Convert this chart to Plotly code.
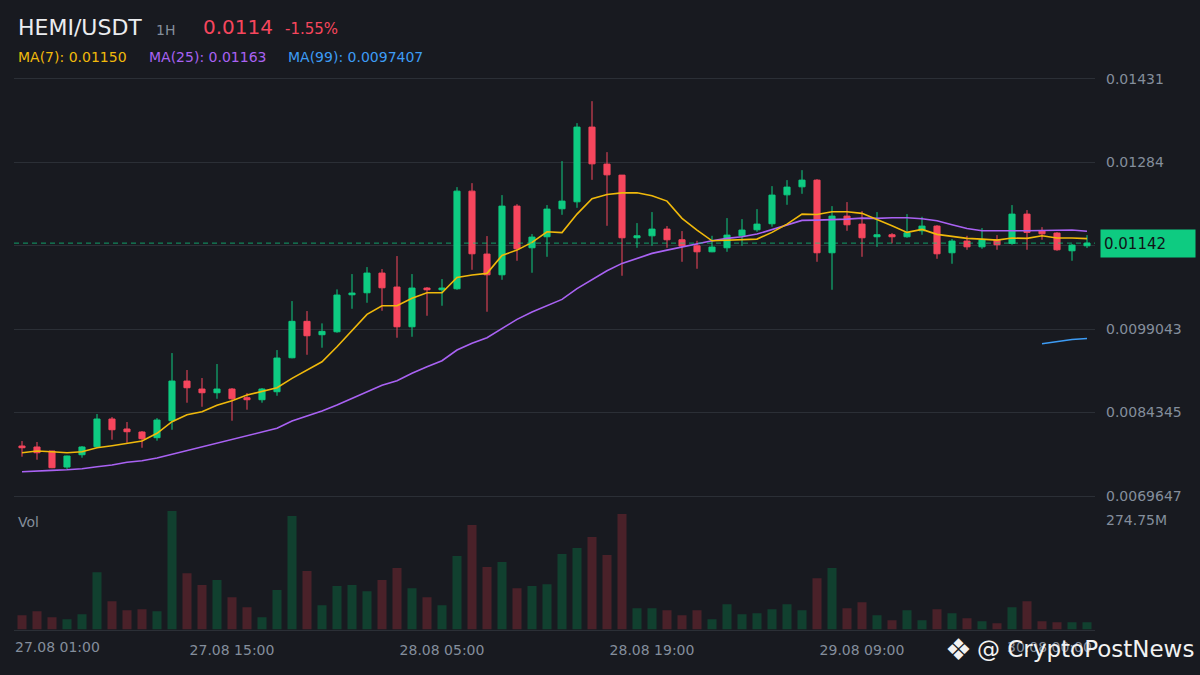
import plotly.graph_objects as go
import pandas as pd

# ---------------- data ----------------
start_time = "2025-08-27 01:00"

opens = [0.007845, 0.007828, 0.007757, 0.007475, 0.007692, 0.007833, 0.008321, 0.008145, 0.008092, 0.007992,
         0.008291, 0.008990, 0.008849, 0.008784, 0.008849, 0.008696, 0.008661, 0.008802, 0.009400, 0.010042,
         0.009806, 0.009858, 0.010510, 0.010545, 0.010892, 0.010646, 0.009946, 0.010628, 0.010598, 0.010616,
         0.012336, 0.011227, 0.010862, 0.012072, 0.011338, 0.011532, 0.012025, 0.012148, 0.013464, 0.012812,
         0.012618, 0.011514, 0.011549, 0.011667, 0.011479, 0.011373, 0.011267, 0.011338, 0.011549, 0.011655,
         0.011761, 0.012271, 0.012412, 0.012530, 0.011250, 0.011896, 0.011755, 0.011532, 0.011567, 0.011532,
         0.011637, 0.011720, 0.011250, 0.011456, 0.011355, 0.011479, 0.011415, 0.011931, 0.011632, 0.011597,
         0.011285, 0.011373]
highs = [0.007933, 0.007916, 0.007760, 0.007675, 0.007845, 0.008409, 0.008356, 0.008268, 0.008110, 0.008338,
         0.009483, 0.009184, 0.009043, 0.009290, 0.008867, 0.008779, 0.008867, 0.009536, 0.010399, 0.010223,
         0.010006, 0.010605, 0.010875, 0.010998, 0.010963, 0.011192, 0.010875, 0.010646, 0.010787, 0.012407,
         0.012477, 0.011544, 0.012266, 0.012107, 0.011579, 0.012090, 0.012865, 0.013534, 0.013921, 0.013023,
         0.012618, 0.011773, 0.011967, 0.011720, 0.011632, 0.011461, 0.011549, 0.011861, 0.011843, 0.012019,
         0.012424, 0.012530, 0.012706, 0.012548, 0.012072, 0.012143, 0.011984, 0.011967, 0.011597, 0.011931,
         0.011884, 0.011738, 0.011491, 0.011549, 0.011685, 0.011561, 0.012090, 0.012002, 0.011702, 0.011614,
         0.011403, 0.011561]
lows = [0.007657, 0.007604, 0.007455, 0.007440, 0.007639, 0.007820, 0.007956, 0.007903, 0.007815, 0.007939,
        0.008132, 0.008608, 0.008537, 0.008678, 0.008291, 0.008485, 0.008608, 0.008731, 0.009390, 0.009453,
        0.009577, 0.009841, 0.010263, 0.010369, 0.010228, 0.009753, 0.009770, 0.010140, 0.010316, 0.010598,
        0.010950, 0.010211, 0.010774, 0.011109, 0.010898, 0.011179, 0.011919, 0.012042, 0.012535, 0.011725,
        0.010845, 0.011338, 0.011373, 0.011338, 0.011091, 0.010968, 0.011260, 0.011267, 0.011373, 0.011620,
        0.011708, 0.012095, 0.012289, 0.011091, 0.010598, 0.011637, 0.011179, 0.011355, 0.011415, 0.011514,
        0.011567, 0.011144, 0.011056, 0.011303, 0.011320, 0.011303, 0.011391, 0.011303, 0.011479, 0.011285,
        0.011109, 0.011333]
closes = [0.007815, 0.007727, 0.007463, 0.007669, 0.007828, 0.008321, 0.008132, 0.008097, 0.007974, 0.008303,
          0.008990, 0.008872, 0.008784, 0.008849, 0.008678, 0.008661, 0.008849, 0.009395, 0.010042, 0.009788,
          0.009865, 0.010505, 0.010540, 0.010892, 0.010633, 0.009946, 0.010628, 0.010598, 0.010628, 0.012336,
          0.011232, 0.010862, 0.012072, 0.011320, 0.011526, 0.012019, 0.012160, 0.013464, 0.012817, 0.012623,
          0.011514, 0.011549, 0.011667, 0.011479, 0.011368, 0.011267, 0.011350, 0.011561, 0.011650, 0.011755,
          0.012266, 0.012407, 0.012530, 0.011250, 0.011896, 0.011743, 0.011514, 0.011567, 0.011532, 0.011602,
          0.011720, 0.011232, 0.011456, 0.011355, 0.011479, 0.011391, 0.011931, 0.011609, 0.011584, 0.011303,
          0.011385, 0.011420]
volumes_m = [33.2, 42.5, 28.6, 23.9, 35.5, 133.0, 65.7, 44.8, 47.1, 42.5,
             274.75, 130.7, 102.9, 114.5, 75.0, 51.8, 28.6, 91.3, 263.1, 135.4,
             56.4, 100.6, 102.9, 88.9, 114.5, 142.4, 95.9, 75.0, 56.4, 170.2,
             242.2, 144.7, 156.3, 95.9, 100.6, 105.2, 174.9, 188.8, 214.4, 172.6,
             267.8, 49.5, 49.5, 44.8, 33.2, 44.8, 23.9, 58.8, 35.5, 37.9,
             47.1, 58.8, 44.8, 119.1, 142.4, 49.5, 63.4, 33.2, 21.6, 44.8,
             21.6, 47.1, 37.9, 26.2, 19.3, 14.6, 51.8, 65.7, 19.3, 17.0,
             17.0, 17.0]
ma7 = [0.007727, 0.007757, 0.007745, 0.007727, 0.007745, 0.007815, 0.007851, 0.007898, 0.007933, 0.008069,
       0.008273, 0.008397, 0.008449, 0.008562, 0.008643, 0.008744, 0.008802, 0.008872, 0.009038, 0.009184,
       0.009330, 0.009594, 0.009871, 0.010165, 0.010316, 0.010316, 0.010447, 0.010545, 0.010545, 0.010816,
       0.010857, 0.010887, 0.011204, 0.011297, 0.011433, 0.011620, 0.011606, 0.011931, 0.012201, 0.012278,
       0.012306, 0.012306, 0.012254, 0.012160, 0.011856, 0.011650, 0.011461, 0.011468, 0.011473, 0.011491,
       0.011609, 0.011755, 0.011931, 0.011923, 0.011972, 0.011972, 0.011944, 0.011838, 0.011725, 0.011609,
       0.011662, 0.011574, 0.011532, 0.011503, 0.011491, 0.011473, 0.011509, 0.011503, 0.011549, 0.011510,
       0.011510, 0.011500]
ma25 = [0.007393, 0.007410, 0.007417, 0.007428, 0.007446, 0.007481, 0.007511, 0.007558, 0.007586, 0.007634,
        0.007699, 0.007770, 0.007833, 0.007893, 0.007956, 0.008027, 0.008097, 0.008157, 0.008286, 0.008374,
        0.008462, 0.008567, 0.008678, 0.008802, 0.008914, 0.008995, 0.009126, 0.009242, 0.009348, 0.009536,
        0.009654, 0.009753, 0.009918, 0.010077, 0.010205, 0.010316, 0.010429, 0.010619, 0.010769, 0.010933,
        0.011063, 0.011151, 0.011239, 0.011297, 0.011355, 0.011403, 0.011461, 0.011503, 0.011532, 0.011579,
        0.011662, 0.011750, 0.011820, 0.011826, 0.011831, 0.011843, 0.011861, 0.011856, 0.011866, 0.011866,
        0.011849, 0.011813, 0.011743, 0.011679, 0.011637, 0.011632, 0.011637, 0.011637, 0.011637, 0.011637,
        0.011650, 0.011630]
ma99_tail = [0.009647, 0.009682, 0.009721, 0.0097407]   # only the last four candles have MA(99)

price_ticks = [0.0069647, 0.0084345, 0.0099043, 0.0113741, 0.0128439, 0.0143137]
price_tick_text = ["0.0069647", "0.0084345", "0.0099043", "", "0.01284", "0.01431"]
time_tick_idx = [14, 28, 42, 56]
vol_max_label = "274.75M"

# ---------------- style ----------------
BG = "#181a20"
GRID = "#2b2f36"
TXT = "#848e9c"
UP = "#0ecb81"
DN = "#f6465d"
UP_VOL = "#11402f"
DN_VOL = "#4a2129"
C_MA7 = "#f0b90b"
C_MA25 = "#a962f3"
C_MA99 = "#3d9cf5"
FONT = "DejaVu Sans"

W, H = 1200, 675
L_PX, R_PX = 14, 1095
PW = R_PX - L_PX


def px(x):
    return (x - L_PX) / PW


def py(y):
    return 1 - y / H


times = pd.date_range(start_time, periods=len(closes), freq="h")
n = len(closes)
ma99 = [None] * (n - len(ma99_tail)) + ma99_tail
hour = pd.Timedelta(hours=1)
x_range = [times[0] - 0.533 * hour, times[-1] + 0.533 * hour]

# main pane: pixel 66..500 ; volume pane: 511..629.5
main_dom = [py(500), py(66)]
vol_dom = [py(629.5), py(511)]
ppu = (496 - 162.3) / (price_ticks[4] - price_ticks[0])
y_lo = price_ticks[0] - (500 - 496) / ppu
y_hi = price_ticks[0] + (496 - 66) / ppu

fig = go.Figure()

fig.add_trace(go.Candlestick(
    x=times, open=opens, high=highs, low=lows, close=closes,
    increasing=dict(line=dict(color=UP, width=1), fillcolor=UP),
    decreasing=dict(line=dict(color=DN, width=1), fillcolor=DN),
    whiskerwidth=0, xaxis="x", yaxis="y", showlegend=False, hoverinfo="skip"))

for vals, col in [(ma25, C_MA25), (ma7, C_MA7), (ma99, C_MA99)]:
    fig.add_trace(go.Scatter(x=times, y=vals, mode="lines", line=dict(color=col, width=1.6),
                             xaxis="x", yaxis="y", showlegend=False, hoverinfo="skip"))

vol_colors = [UP_VOL if c >= o else DN_VOL for o, c in zip(opens, closes)]
fig.add_trace(go.Bar(x=times, y=[v * 1e6 for v in volumes_m], marker=dict(color=vol_colors, line=dict(width=0)),
                     xaxis="x2", yaxis="y2", showlegend=False, hoverinfo="skip"))

last = closes[-1]
fig.add_shape(type="line", xref="paper", x0=0, x1=1, yref="y", y0=last, y1=last,
              line=dict(color="rgba(14,203,129,0.75)", width=1, dash="5px,4px"))

anns = []


def ann(text, x_px, y_px, size, color, xanchor="left"):
    anns.append(dict(text=text, xref="paper", yref="paper", x=px(x_px), y=py(y_px),
                     xanchor=xanchor, yanchor="middle", showarrow=False,
                     font=dict(family=FONT, size=size, color=color)))


ann("HEMI/USDT", 16, 27, 22, "#eaecef")
ann("1H", 154, 30, 14, TXT)
ann("0.0114", 201, 27, 20, DN)
ann("-1.55%", 283, 29, 15, DN)
ann(f"MA(7): {ma7[-1]:.5f}", 16, 57, 14, C_MA7)
ann(f"MA(25): {ma25[-1]:.5f}", 147, 57, 14, C_MA25)
ann(f"MA(99): {ma99_tail[-1]:.7f}", 286, 57, 14, C_MA99)
ann("Vol", 16, 522, 14, TXT)

# volume max label
anns.append(dict(text=vol_max_label, xref="paper", yref="y2", x=px(1104), y=max(volumes_m) * 1e6,
                 xanchor="left", yanchor="middle", yshift=-9, showarrow=False,
                 font=dict(family=FONT, size=14, color=TXT)))

# edge time labels (clamped inside the pane)
anns.append(dict(text=times[0].strftime("%d.%m %H:%M"), xref="x2", yref="paper", x=times[0], y=py(647),
                 xanchor="left", yanchor="middle", xshift=-9, showarrow=False,
                 font=dict(family=FONT, size=14, color=TXT)))
anns.append(dict(text=times[-1].strftime("%d.%m %H:%M"), xref="x2", yref="paper", x=times[-1], y=py(647),
                 xanchor="right", yanchor="middle", xshift=7, showarrow=False,
                 font=dict(family=FONT, size=14, color=TXT)))

# last price tag
anns.append(dict(text=f"{last:.5f}", xref="paper", yref="y", x=px(1100), y=last,
                 xanchor="left", yanchor="middle", showarrow=False, align="left",
                 bgcolor=UP, borderpad=3, width=88, height=21,
                 font=dict(family=FONT, size=15, color="#111317")))

# watermark
ann("❖", 958, 649, 30, "#f2f2f2", xanchor="center")
ann("@ CryptoPostNews", 975, 649, 23, "#f2f2f2")

fig.update_layout(
    width=W, height=H,
    paper_bgcolor=BG, plot_bgcolor=BG,
    margin=dict(l=L_PX, r=W - R_PX, t=0, b=0, pad=0, autoexpand=False),
    font=dict(family=FONT, color=TXT, size=14),
    boxgap=0.42, bargap=0.4,
    showlegend=False,
    annotations=anns,
    xaxis=dict(domain=[0, 1], anchor="y", range=x_range, showticklabels=False, showgrid=False,
               zeroline=False, rangeslider=dict(visible=False), matches="x2", ticks="", automargin=False),
    xaxis2=dict(domain=[0, 1], anchor="y2", range=x_range, showgrid=False, zeroline=False,
                tickvals=[times[i] for i in time_tick_idx],
                ticktext=[times[i].strftime("%d.%m %H:%M") for i in time_tick_idx],
                tickfont=dict(family=FONT, size=14, color=TXT), ticks="", ticklabelstandoff=8,
                showline=True, linecolor=GRID, linewidth=1, automargin=False),
    yaxis=dict(domain=main_dom, range=[y_lo, y_hi], side="right", tickvals=price_ticks,
               ticktext=price_tick_text, showgrid=True, gridcolor=GRID, gridwidth=1, zeroline=False,
               ticks="", ticklabelstandoff=10, tickfont=dict(family=FONT, size=14, color=TXT),
               automargin=False),
    yaxis2=dict(domain=vol_dom, range=[0, max(volumes_m) * 1e6], side="right", showgrid=False,
                zeroline=False, showticklabels=False, ticks="", automargin=False),
)

page_fix = (
    "document.documentElement.style.margin='0';"
    "document.documentElement.style.overflow='hidden';"
    "document.documentElement.style.background='#181a20';"
    "document.body.style.margin='0';"
    "document.body.style.overflow='hidden';"
    "document.body.style.height='675px';"
    "document.body.style.background='#181a20';"
    "var g=document.getElementById('{plot_id}');g.style.display='block';"
    "if(g.parentElement){g.parentElement.style.height='675px';g.parentElement.style.overflow='hidden';}"
)

fig.write_html("out.html", config={"displayModeBar": False}, post_script=page_fix)
